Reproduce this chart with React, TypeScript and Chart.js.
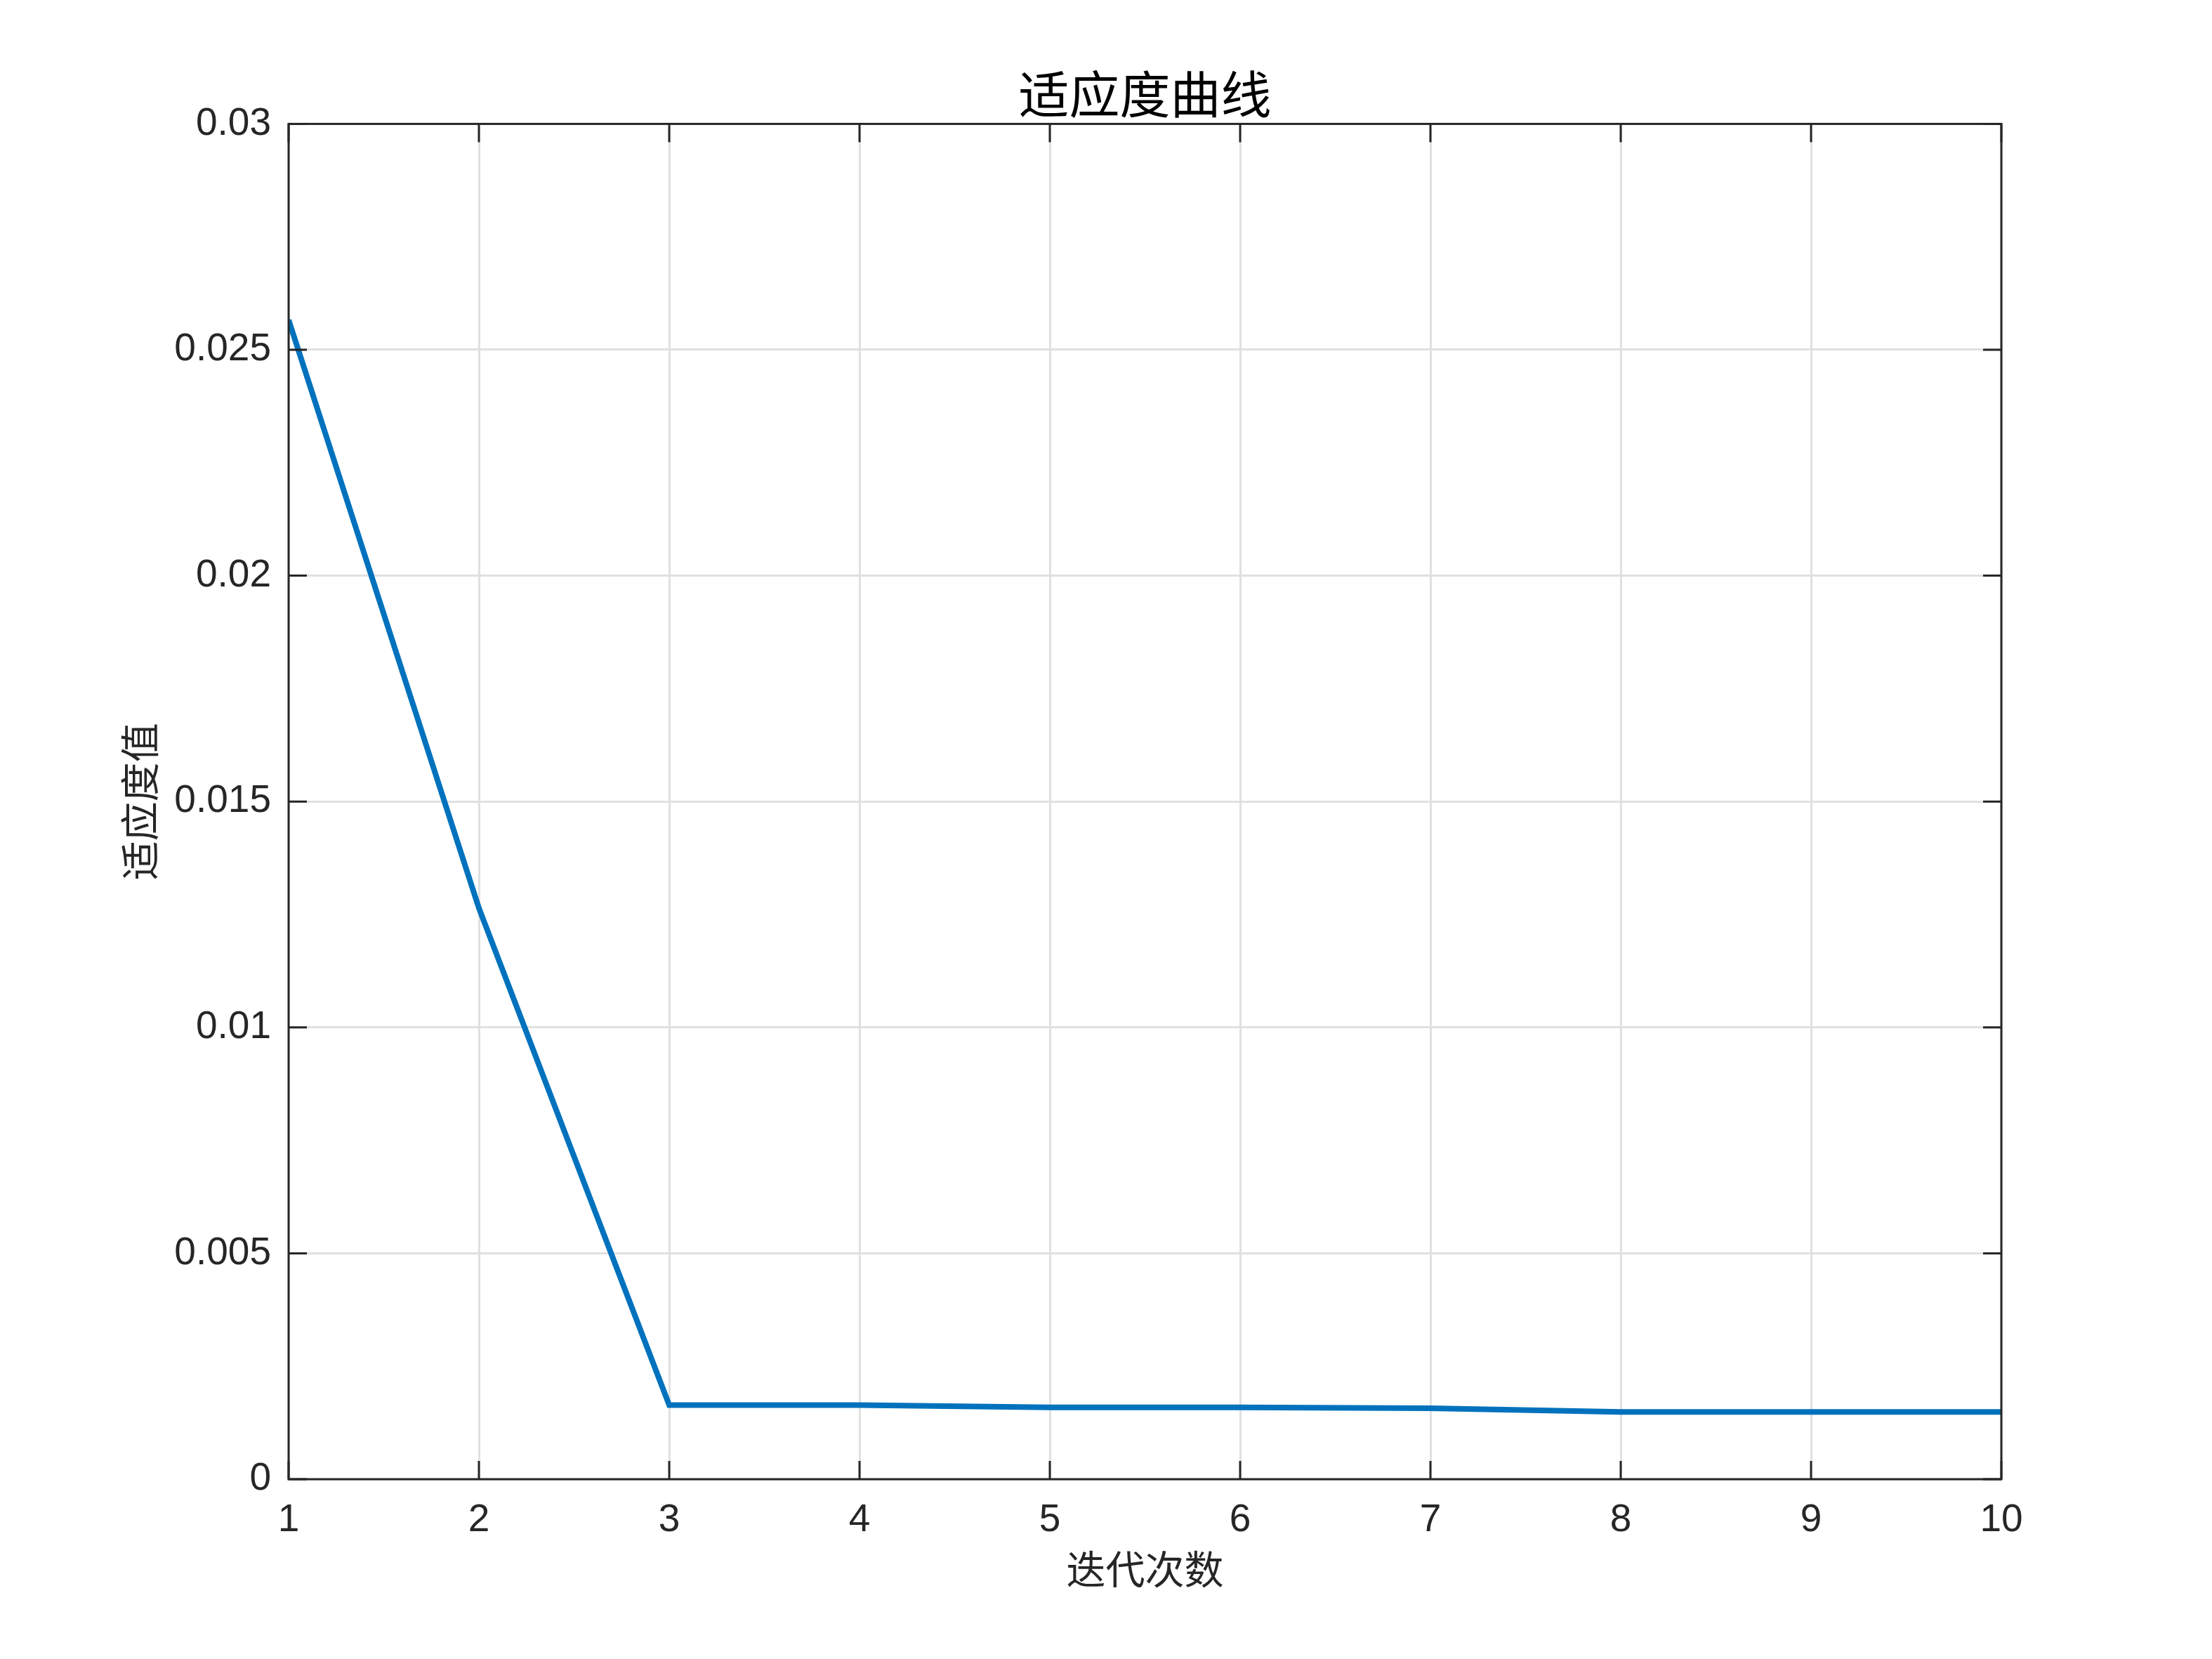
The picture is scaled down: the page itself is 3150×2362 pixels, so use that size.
import { useEffect, useRef } from 'react';
import { Chart, registerables } from 'chart.js';
import type { Plugin } from 'chart.js';

Chart.register(...registerables);

const iterations = [1, 2, 3, 4, 5, 6, 7, 8, 9, 10];
const fitness = [0.02566, 0.01264, 0.00164, 0.00164, 0.00159, 0.00159, 0.00157, 0.00149, 0.00149, 0.00149];
const yTicks = [0, 0.005, 0.01, 0.015, 0.02, 0.025, 0.03];

const W = 3150;
const H = 2362;
const axisColor = '#262626';
const gridColor = '#e0e0e0';
const lineColor = '#0072BD';
const tickFont = '"Liberation Sans", Arial, sans-serif';
const cjkFont = '"Noto Sans CJK SC", sans-serif';

// MATLAB-style box: frame on all four sides, tick marks pointing inwards
const boxPlugin: Plugin<'line'> = {
  id: 'matlabBox',
  afterDraw(chart) {
    const { ctx, chartArea: a, scales } = chart;
    const tl = 26;
    ctx.save();
    ctx.strokeStyle = axisColor;
    ctx.lineWidth = 3;
    ctx.beginPath();
    for (const v of iterations) {
      const px = scales.x.getPixelForValue(v);
      ctx.moveTo(px, a.bottom); ctx.lineTo(px, a.bottom - tl);
      ctx.moveTo(px, a.top);    ctx.lineTo(px, a.top + tl);
    }
    for (const v of yTicks) {
      const py = scales.y.getPixelForValue(v);
      ctx.moveTo(a.left, py);  ctx.lineTo(a.left + tl, py);
      ctx.moveTo(a.right, py); ctx.lineTo(a.right - tl, py);
    }
    ctx.stroke();
    ctx.strokeRect(a.left, a.top, a.right - a.left, a.bottom - a.top);
    ctx.restore();
  },
};

function FitnessChart() {
  const ref = useRef<HTMLCanvasElement>(null);

  useEffect(() => {
    if (!ref.current) return;
    const chart = new Chart(ref.current, {
      type: 'line',
      data: {
        datasets: [{
          label:       '适应度值',
          data:        iterations.map((x, i) => ({ x, y: fitness[i] })),
          borderColor: lineColor,
          borderWidth: 8,
          pointRadius: 0,
          tension:     0,
        }],
      },
      options: {
        responsive:       false,
        animation:        false,
        devicePixelRatio: 1,
        layout: { padding: { left: 0, right: W - 2850, top: 0, bottom: 0 } },
        plugins: {
          legend:  { display: false },
          tooltip: { enabled: false },
          title: {
            display:  true,
            text:     '适应度曲线',
            fullSize: false,
            color:    '#000',
            font:     { family: cjkFont, size: 72, weight: 'normal', lineHeight: 1.2 },
            padding:  { top: 90, bottom: 0 },
          },
        },
        scales: {
          x: {
            type: 'linear',
            min:  1,
            max:  10,
            afterFit: (s) => { s.height = H - 2106; },
            border: { display: false },
            grid:   { color: gridColor, lineWidth: 3, drawTicks: false },
            ticks:  {
              stepSize: 1,
              padding:  26,
              color:    axisColor,
              font:     { family: tickFont, size: 55 },
            },
            title: {
              display: true,
              text:    '迭代次数',
              color:   axisColor,
              font:    { family: cjkFont, size: 56, lineHeight: 1.2 },
              padding: { top: 0, bottom: 95 },
            },
          },
          y: {
            min: 0,
            max: 0.03,
            afterFit: (s) => { s.width = 411; },
            afterBuildTicks: (s) => { s.ticks = yTicks.map((value) => ({ value })); },
            border: { display: false },
            grid:   { color: gridColor, lineWidth: 3, drawTicks: false },
            ticks:  {
              padding:  25,
              color:    axisColor,
              font:     { family: tickFont, size: 55 },
              callback: (v) => String(parseFloat(Number(v).toFixed(3))),
            },
            title: {
              display: true,
              text:    '适应度值',
              color:   axisColor,
              font:    { family: cjkFont, size: 56, lineHeight: 1.2 },
              padding: { top: 165, bottom: 0 },
            },
          },
        },
      },
      plugins: [boxPlugin],
    });
    return () => chart.destroy();
  }, []);

  return <canvas ref={ref} width={W} height={H} />;
}

export default function App() {
  useEffect(() => {
    document.body.style.margin = '0';
    document.body.style.background = '#fff';
  }, []);

  return (
    <div style={{ width: W, height: H, background: '#fff' }}>
      <FitnessChart />
    </div>
  );
}
